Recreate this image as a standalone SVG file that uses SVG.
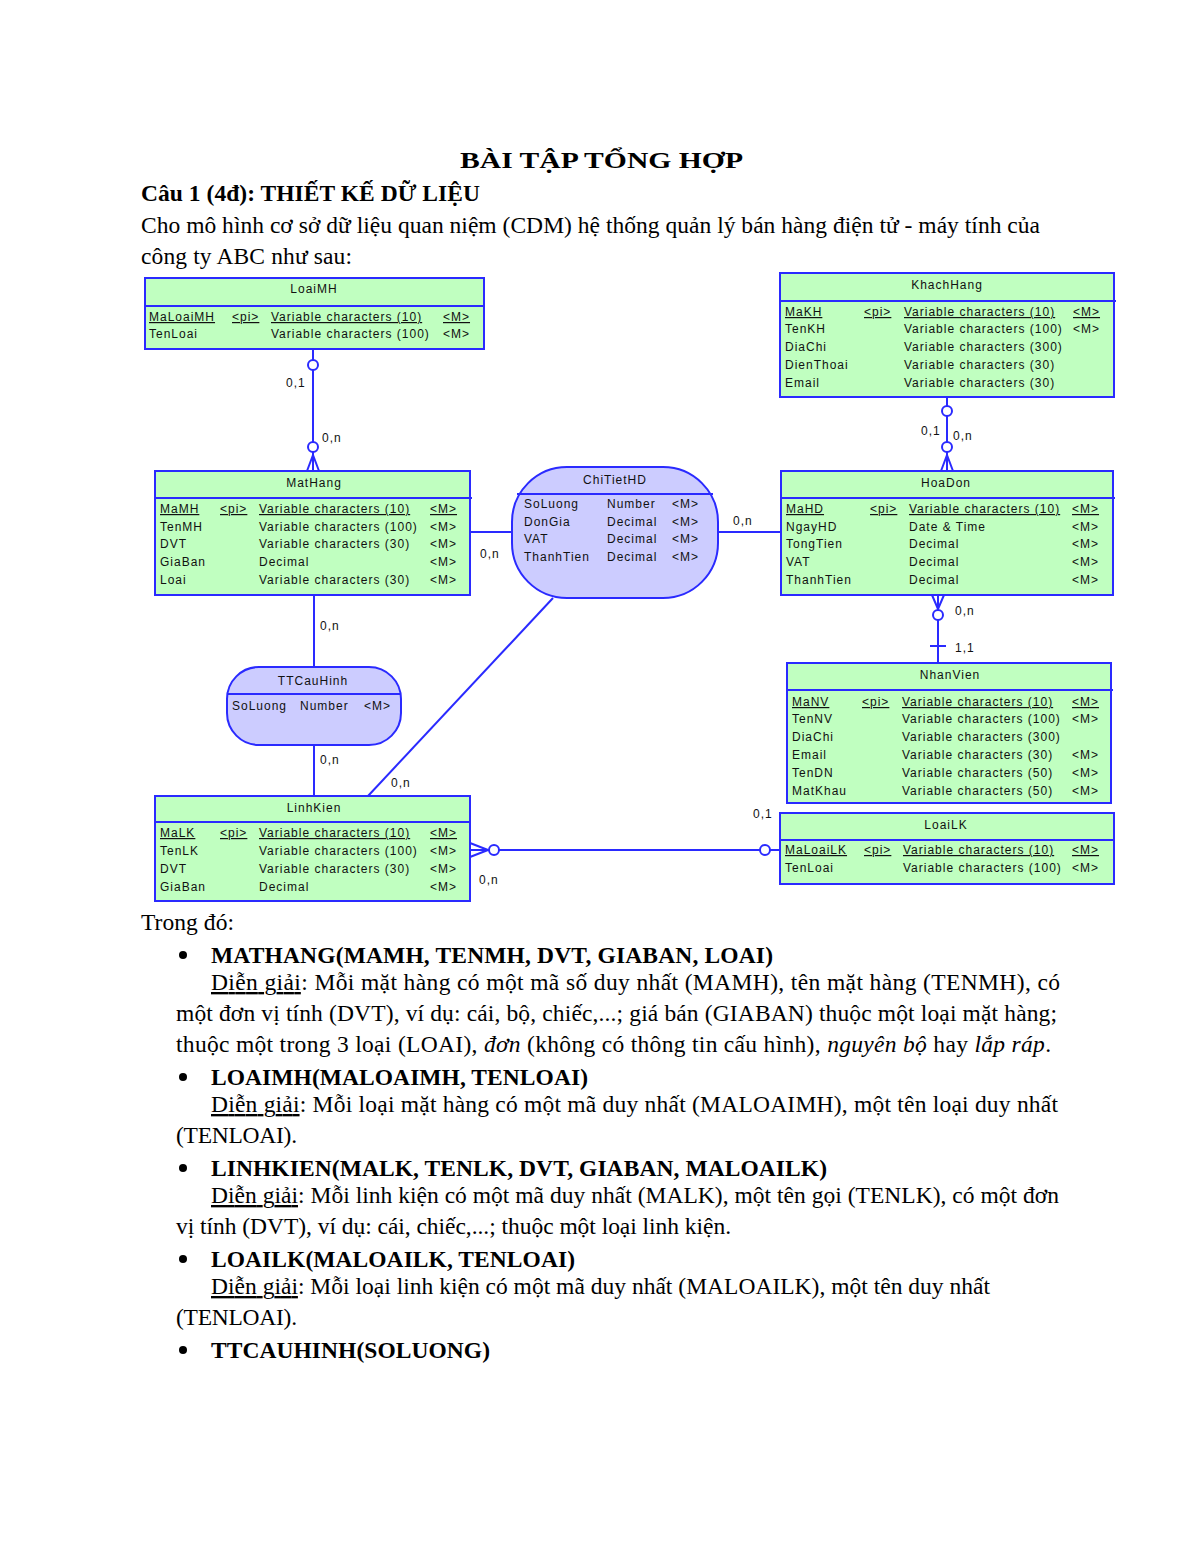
<svg xmlns="http://www.w3.org/2000/svg" width="1200" height="1553" viewBox="0 0 1200 1553">
<style>
.ent{fill:#c0ffc0;stroke:#2a2aff;stroke-width:2}
.asc{fill:#ccccff;stroke:#2a2aff;stroke-width:2}
.sep{stroke:#2a2aff;stroke-width:2}
.ln{stroke:#2a2aff;stroke-width:2;fill:none}
.cir{fill:#ffffff;stroke:#2a2aff;stroke-width:2}
.t{font-family:"Liberation Sans",Arial,sans-serif;font-size:12px;letter-spacing:1px;fill:#111}
.h{font-family:"Liberation Sans",Arial,sans-serif;font-size:12px;letter-spacing:1px;fill:#111;text-anchor:middle}
.u{text-decoration:underline}
.card{font-family:"Liberation Sans",Arial,sans-serif;font-size:12px;letter-spacing:1px;fill:#111}
.doc{font-family:"Liberation Serif","Times New Roman",serif;font-size:23.5px;fill:#000}
.b{font-weight:bold}
</style>
<rect width="1200" height="1553" fill="#ffffff"/>

<text class="doc b" x="460" y="168" font-size="32" textLength="283" lengthAdjust="spacingAndGlyphs">BÀI TẬP TỔNG HỢP</text>
<text class="doc b" x="141" y="201" textLength="339" lengthAdjust="spacing">Câu 1 (4đ): THIẾT KẾ DỮ LIỆU</text>
<text class="doc" x="141" y="233" textLength="899" lengthAdjust="spacing">Cho mô hình cơ sở dữ liệu quan niệm (CDM) hệ thống quản lý bán hàng điện tử - máy tính của</text>
<text class="doc" x="141" y="264" textLength="211" lengthAdjust="spacing">công ty ABC như sau:</text>

<g id="connectors">
  <line class="ln" x1="313" y1="349" x2="313" y2="471"/>
  <path class="ln" d="M313,455 L307,471 M313,455 L319,471"/>
  <circle class="cir" cx="313" cy="365" r="5"/>
  <circle class="cir" cx="313" cy="447" r="5"/>
  <text class="card" x="286" y="387">0,1</text>
  <text class="card" x="322" y="442">0,n</text>

  <line class="ln" x1="947" y1="397" x2="947" y2="471"/>
  <path class="ln" d="M947,455 L941,471 M947,455 L953,471"/>
  <circle class="cir" cx="947" cy="411" r="5"/>
  <circle class="cir" cx="947" cy="447" r="5"/>
  <text class="card" x="921" y="435">0,1</text>
  <text class="card" x="953" y="440">0,n</text>

  <line class="ln" x1="938" y1="595" x2="938" y2="663"/>
  <path class="ln" d="M932,595 L938,609 M944,595 L938,609"/>
  <circle class="cir" cx="938" cy="615" r="5"/>
  <line class="ln" x1="930" y1="646" x2="946" y2="646"/>
  <text class="card" x="955" y="615">0,n</text>
  <text class="card" x="955" y="652">1,1</text>

  <line class="ln" x1="470" y1="532" x2="513" y2="532"/>
  <text class="card" x="480" y="558">0,n</text>

  <line class="ln" x1="717" y1="532" x2="781" y2="532"/>
  <text class="card" x="733" y="525">0,n</text>

  <line class="ln" x1="314" y1="595" x2="314" y2="667"/>
  <text class="card" x="320" y="630">0,n</text>

  <line class="ln" x1="314" y1="745" x2="314" y2="796"/>
  <text class="card" x="320" y="764">0,n</text>

  <line class="ln" x1="553" y1="598" x2="368" y2="796"/>
  <text class="card" x="391" y="787">0,n</text>

  <line class="ln" x1="470" y1="850" x2="780" y2="850"/>
  <path class="ln" d="M470,843 L488,850 M470,857 L488,850"/>
  <circle class="cir" cx="494" cy="850" r="5"/>
  <circle class="cir" cx="765" cy="850" r="5"/>
  <text class="card" x="753" y="818">0,1</text>
  <text class="card" x="479" y="884">0,n</text>
</g>

<g id="LoaiMH">
  <rect class="ent" x="145" y="278" width="339" height="71"/>
  <line class="sep" x1="145" y1="306" x2="484" y2="306"/>
  <text class="h" x="314" y="293">LoaiMH</text>
  <text class="t u" x="149" y="321">MaLoaiMH</text><text class="t u" x="232" y="321">&lt;pi&gt;</text><text class="t u" x="271" y="321">Variable characters (10)</text><text class="t u" x="443" y="321">&lt;M&gt;</text>
  <text class="t" x="149" y="338">TenLoai</text><text class="t" x="271" y="338">Variable characters (100)</text><text class="t" x="443" y="338">&lt;M&gt;</text>
</g>

<g id="KhachHang">
  <rect class="ent" x="780" y="273" width="334" height="124"/>
  <line class="sep" x1="780" y1="301" x2="1116" y2="301"/>
  <text class="h" x="947" y="289">KhachHang</text>
  <text class="t u" x="785" y="316">MaKH</text><text class="t u" x="864" y="316">&lt;pi&gt;</text><text class="t u" x="904" y="316">Variable characters (10)</text><text class="t u" x="1073" y="316">&lt;M&gt;</text>
  <text class="t" x="785" y="333">TenKH</text><text class="t" x="904" y="333">Variable characters (100)</text><text class="t" x="1073" y="333">&lt;M&gt;</text>
  <text class="t" x="785" y="351">DiaChi</text><text class="t" x="904" y="351">Variable characters (300)</text>
  <text class="t" x="785" y="369">DienThoai</text><text class="t" x="904" y="369">Variable characters (30)</text>
  <text class="t" x="785" y="387">Email</text><text class="t" x="904" y="387">Variable characters (30)</text>
</g>

<g id="MatHang">
  <rect class="ent" x="155" y="471" width="315" height="124"/>
  <line class="sep" x1="155" y1="498" x2="472" y2="498"/>
  <text class="h" x="314" y="487">MatHang</text>
  <text class="t u" x="160" y="513">MaMH</text><text class="t u" x="220" y="513">&lt;pi&gt;</text><text class="t u" x="259" y="513">Variable characters (10)</text><text class="t u" x="430" y="513">&lt;M&gt;</text>
  <text class="t" x="160" y="531">TenMH</text><text class="t" x="259" y="531">Variable characters (100)</text><text class="t" x="430" y="531">&lt;M&gt;</text>
  <text class="t" x="160" y="548">DVT</text><text class="t" x="259" y="548">Variable characters (30)</text><text class="t" x="430" y="548">&lt;M&gt;</text>
  <text class="t" x="160" y="566">GiaBan</text><text class="t" x="259" y="566">Decimal</text><text class="t" x="430" y="566">&lt;M&gt;</text>
  <text class="t" x="160" y="584">Loai</text><text class="t" x="259" y="584">Variable characters (30)</text><text class="t" x="430" y="584">&lt;M&gt;</text>
</g>

<g id="ChiTietHD">
  <rect class="asc" x="512" y="467" width="206" height="131" rx="55" ry="55"/>
  <line class="sep" x1="517" y1="494" x2="713" y2="494"/>
  <text class="h" x="615" y="484">ChiTietHD</text>
  <text class="t" x="524" y="508">SoLuong</text><text class="t" x="607" y="508">Number</text><text class="t" x="672" y="508">&lt;M&gt;</text>
  <text class="t" x="524" y="526">DonGia</text><text class="t" x="607" y="526">Decimal</text><text class="t" x="672" y="526">&lt;M&gt;</text>
  <text class="t" x="524" y="543">VAT</text><text class="t" x="607" y="543">Decimal</text><text class="t" x="672" y="543">&lt;M&gt;</text>
  <text class="t" x="524" y="561">ThanhTien</text><text class="t" x="607" y="561">Decimal</text><text class="t" x="672" y="561">&lt;M&gt;</text>
</g>

<g id="HoaDon">
  <rect class="ent" x="781" y="471" width="332" height="124"/>
  <line class="sep" x1="781" y1="498" x2="1115" y2="498"/>
  <text class="h" x="946" y="487">HoaDon</text>
  <text class="t u" x="786" y="513">MaHD</text><text class="t u" x="870" y="513">&lt;pi&gt;</text><text class="t u" x="909" y="513">Variable characters (10)</text><text class="t u" x="1072" y="513">&lt;M&gt;</text>
  <text class="t" x="786" y="531">NgayHD</text><text class="t" x="909" y="531">Date &amp; Time</text><text class="t" x="1072" y="531">&lt;M&gt;</text>
  <text class="t" x="786" y="548">TongTien</text><text class="t" x="909" y="548">Decimal</text><text class="t" x="1072" y="548">&lt;M&gt;</text>
  <text class="t" x="786" y="566">VAT</text><text class="t" x="909" y="566">Decimal</text><text class="t" x="1072" y="566">&lt;M&gt;</text>
  <text class="t" x="786" y="584">ThanhTien</text><text class="t" x="909" y="584">Decimal</text><text class="t" x="1072" y="584">&lt;M&gt;</text>
</g>

<g id="TTCauHinh">
  <rect class="asc" x="227" y="667" width="174" height="78" rx="32" ry="32"/>
  <line class="sep" x1="228" y1="694" x2="400" y2="694"/>
  <text class="h" x="313" y="685">TTCauHinh</text>
  <text class="t" x="232" y="710">SoLuong</text><text class="t" x="300" y="710">Number</text><text class="t" x="364" y="710">&lt;M&gt;</text>
</g>

<g id="NhanVien">
  <rect class="ent" x="787" y="663" width="324" height="140"/>
  <line class="sep" x1="787" y1="690" x2="1113" y2="690"/>
  <text class="h" x="950" y="679">NhanVien</text>
  <text class="t u" x="792" y="706">MaNV</text><text class="t u" x="862" y="706">&lt;pi&gt;</text><text class="t u" x="902" y="706">Variable characters (10)</text><text class="t u" x="1072" y="706">&lt;M&gt;</text>
  <text class="t" x="792" y="723">TenNV</text><text class="t" x="902" y="723">Variable characters (100)</text><text class="t" x="1072" y="723">&lt;M&gt;</text>
  <text class="t" x="792" y="741">DiaChi</text><text class="t" x="902" y="741">Variable characters (300)</text>
  <text class="t" x="792" y="759">Email</text><text class="t" x="902" y="759">Variable characters (30)</text><text class="t" x="1072" y="759">&lt;M&gt;</text>
  <text class="t" x="792" y="777">TenDN</text><text class="t" x="902" y="777">Variable characters (50)</text><text class="t" x="1072" y="777">&lt;M&gt;</text>
  <text class="t" x="792" y="795">MatKhau</text><text class="t" x="902" y="795">Variable characters (50)</text><text class="t" x="1072" y="795">&lt;M&gt;</text>
</g>

<g id="LinhKien">
  <rect class="ent" x="155" y="796" width="315" height="105"/>
  <line class="sep" x1="155" y1="822" x2="470" y2="822"/>
  <text class="h" x="314" y="812">LinhKien</text>
  <text class="t u" x="160" y="837">MaLK</text><text class="t u" x="220" y="837">&lt;pi&gt;</text><text class="t u" x="259" y="837">Variable characters (10)</text><text class="t u" x="430" y="837">&lt;M&gt;</text>
  <text class="t" x="160" y="855">TenLK</text><text class="t" x="259" y="855">Variable characters (100)</text><text class="t" x="430" y="855">&lt;M&gt;</text>
  <text class="t" x="160" y="873">DVT</text><text class="t" x="259" y="873">Variable characters (30)</text><text class="t" x="430" y="873">&lt;M&gt;</text>
  <text class="t" x="160" y="891">GiaBan</text><text class="t" x="259" y="891">Decimal</text><text class="t" x="430" y="891">&lt;M&gt;</text>
</g>

<g id="LoaiLK">
  <rect class="ent" x="780" y="813" width="334" height="71"/>
  <line class="sep" x1="780" y1="840" x2="1114" y2="840"/>
  <text class="h" x="946" y="829">LoaiLK</text>
  <text class="t u" x="785" y="854">MaLoaiLK</text><text class="t u" x="864" y="854">&lt;pi&gt;</text><text class="t u" x="903" y="854">Variable characters (10)</text><text class="t u" x="1072" y="854">&lt;M&gt;</text>
  <text class="t" x="785" y="872">TenLoai</text><text class="t" x="903" y="872">Variable characters (100)</text><text class="t" x="1072" y="872">&lt;M&gt;</text>
</g>

<g id="text-body">
  <text class="doc" x="141" y="930" textLength="93" lengthAdjust="spacing">Trong đó:</text>
  <circle cx="183" cy="955" r="4" fill="#000"/>
  <text class="doc b" x="211" y="963" textLength="562" lengthAdjust="spacing">MATHANG(MAMH, TENMH, DVT, GIABAN, LOAI)</text>
  <text class="doc" x="211" y="990" textLength="849" lengthAdjust="spacing"><tspan text-decoration="underline">Diễn giải</tspan>: Mỗi mặt hàng có một mã số duy nhất (MAMH), tên mặt hàng (TENMH), có</text>
  <text class="doc" x="176" y="1021" textLength="881" lengthAdjust="spacing">một đơn vị tính (DVT), ví dụ: cái, bộ, chiếc,...; giá bán (GIABAN) thuộc một loại mặt hàng;</text>
  <text class="doc" x="176" y="1052" textLength="875" lengthAdjust="spacing">thuộc một trong 3 loại (LOAI), <tspan font-style="italic">đơn</tspan> (không có thông tin cấu hình), <tspan font-style="italic">nguyên bộ</tspan> hay <tspan font-style="italic">lắp ráp</tspan>.</text>
  <circle cx="183" cy="1077" r="4" fill="#000"/>
  <text class="doc b" x="211" y="1085" textLength="377" lengthAdjust="spacing">LOAIMH(MALOAIMH, TENLOAI)</text>
  <text class="doc" x="211" y="1112" textLength="847" lengthAdjust="spacing"><tspan text-decoration="underline">Diễn giải</tspan>: Mỗi loại mặt hàng có một mã duy nhất (MALOAIMH), một tên loại duy nhất</text>
  <text class="doc" x="176" y="1143" textLength="121" lengthAdjust="spacing">(TENLOAI).</text>
  <circle cx="183" cy="1168" r="4" fill="#000"/>
  <text class="doc b" x="211" y="1176" textLength="616" lengthAdjust="spacing">LINHKIEN(MALK, TENLK, DVT, GIABAN, MALOAILK)</text>
  <text class="doc" x="211" y="1203" textLength="848" lengthAdjust="spacing"><tspan text-decoration="underline">Diễn giải</tspan>: Mỗi linh kiện có một mã duy nhất (MALK), một tên gọi (TENLK), có một đơn</text>
  <text class="doc" x="176" y="1234" textLength="555" lengthAdjust="spacing">vị tính (DVT), ví dụ: cái, chiếc,...; thuộc một loại linh kiện.</text>
  <circle cx="183" cy="1259" r="4" fill="#000"/>
  <text class="doc b" x="211" y="1267" textLength="364" lengthAdjust="spacing">LOAILK(MALOAILK, TENLOAI)</text>
  <text class="doc" x="211" y="1294" textLength="779" lengthAdjust="spacing"><tspan text-decoration="underline">Diễn giải</tspan>: Mỗi loại linh kiện có một mã duy nhất (MALOAILK), một tên duy nhất</text>
  <text class="doc" x="176" y="1325" textLength="121" lengthAdjust="spacing">(TENLOAI).</text>
  <circle cx="183" cy="1350" r="4" fill="#000"/>
  <text class="doc b" x="211" y="1358" textLength="279" lengthAdjust="spacing">TTCAUHINH(SOLUONG)</text>
</g>
</svg>
